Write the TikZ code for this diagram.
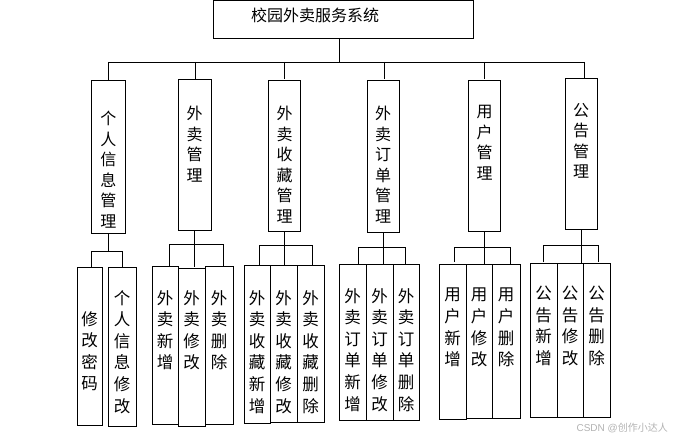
\documentclass[tikz,border=0pt]{standalone}
\usepackage{fontspec}
\newfontfamily\cjk{Noto Sans CJK SC}
\begin{document}
\begin{tikzpicture}[x=1pt,y=-1pt,
  bx/.style={draw,line width=0.8pt,inner sep=0pt},
  tx/.style={anchor=north,inner sep=0pt,align=center,font=\cjk\fontsize{16.5}{21.6}\selectfont},
  ln/.style={line width=0.8pt}]
\useasboundingbox (0,0) rectangle (675,441);
\newcommand\mkbox[7]{%
  \node[bx,minimum width={#3-#2},minimum height={#5-#4}] (#1) at ({(#2+#3)/2},{(#4+#5)/2}) {};
  \node[tx] (#1t) at ({(#2+#3)/2},#7) {#6};}
% top
\node[bx,minimum width=260,minimum height=38] (T) at (343,19) {};
\node[inner sep=0pt,font=\cjk\fontsize{16}{18}\selectfont] (Tt) at (315,15) {校园外卖服务系统};
% level 2
\begin{scope}[tx/.append style={font=\cjk\fontsize{16}{20.5}\selectfont}]
\mkbox{A}{91.6}{125}{80}{233}{个\\人\\信\\息\\管\\理}{111}
\mkbox{B}{178}{211}{79}{230}{外\\卖\\管\\理}{106}
\mkbox{C}{268.5}{300.8}{80}{231}{外\\卖\\收\\藏\\管\\理}{106}
\mkbox{D}{367}{399}{80}{232}{外\\卖\\订\\单\\管\\理}{106}
\mkbox{E}{468.5}{500.6}{80}{231}{用\\户\\管\\理}{105}
\mkbox{F}{565}{597}{78}{229}{公\\告\\管\\理}{103}
\end{scope}
\coordinate (hl) at (108,62); \coordinate (hr) at (584,62);
\draw[ln] (339,38) -- (339,62);
\draw[ln] (hl) -- (hr);
\draw[ln] (hl) -- (108,80);
\foreach \n/\x in {B/195,C/284,D/384,E/484.6,F/584}{\draw[ln] (\x,62) -- (\x,79);}
% level 3
\mkbox{A1}{77}{102}{267}{425}{修\\改\\密\\码}{311}
\mkbox{A2}{108}{136}{267}{426}{个\\人\\信\\息\\修\\改}{290}
\mkbox{B1}{152}{178}{266}{424}{外\\卖\\新\\增}{290}
\mkbox{B2}{178}{205}{268}{426}{外\\卖\\修\\改}{290}
\mkbox{B3}{205}{233}{266}{424}{外\\卖\\删\\除}{290}
\mkbox{C1}{244}{270}{265}{423}{外\\卖\\收\\藏\\新\\增}{290}
\mkbox{C2}{270}{297}{265}{422}{外\\卖\\收\\藏\\修\\改}{290}
\mkbox{C3}{297}{324}{265}{422}{外\\卖\\收\\藏\\删\\除}{290}
\mkbox{D1}{339}{366}{264}{420}{外\\卖\\订\\单\\新\\增}{288}
\mkbox{D2}{366}{393}{264}{420}{外\\卖\\订\\单\\修\\改}{288}
\mkbox{D3}{393}{419}{264}{420}{外\\卖\\订\\单\\删\\除}{288}
\mkbox{E1}{439}{466}{264}{419}{用\\户\\新\\增}{288}
\mkbox{E2}{466}{492}{264}{418}{用\\户\\修\\改}{288}
\mkbox{E3}{492}{520}{264}{418}{用\\户\\删\\除}{288}
\mkbox{F1}{530}{557}{263}{417}{公\\告\\新\\增}{286}
\mkbox{F2}{557}{583}{263}{417}{公\\告\\修\\改}{286}
\mkbox{F3}{583}{610}{263}{417}{公\\告\\删\\除}{286}
% brackets
\draw[ln] (A.south) -- ++(0,18) (91,267) |- (122,251) -- (122,267);
\draw[ln] (B.south) -- (B.south |- A1.north) (169,266) |- (223,244) -- (223,266);
\draw[ln] (C.south) -- (C.south |- C1.north) (259,265) |- (312,245) -- (312,265);
\draw[ln] (D.south) -- (D.south |- D1.north) (358,264) |- (405,247) -- (405,264);
\draw[ln] (E.south) -- (E.south |- E1.north) (454,262) |- (510,247) -- (510,264);
\draw[ln] (F.south) -- (F.south |- F1.north) (543,262) |- (598,245) -- (598,262);
\node[inner sep=0pt,text=black!30,font=\fontspec{Liberation Sans}\fontsize{10}{12}\selectfont,anchor=east] (wm) at (668,428) {CSDN @\cjk 创作小达人};
\end{tikzpicture}
\end{document}
